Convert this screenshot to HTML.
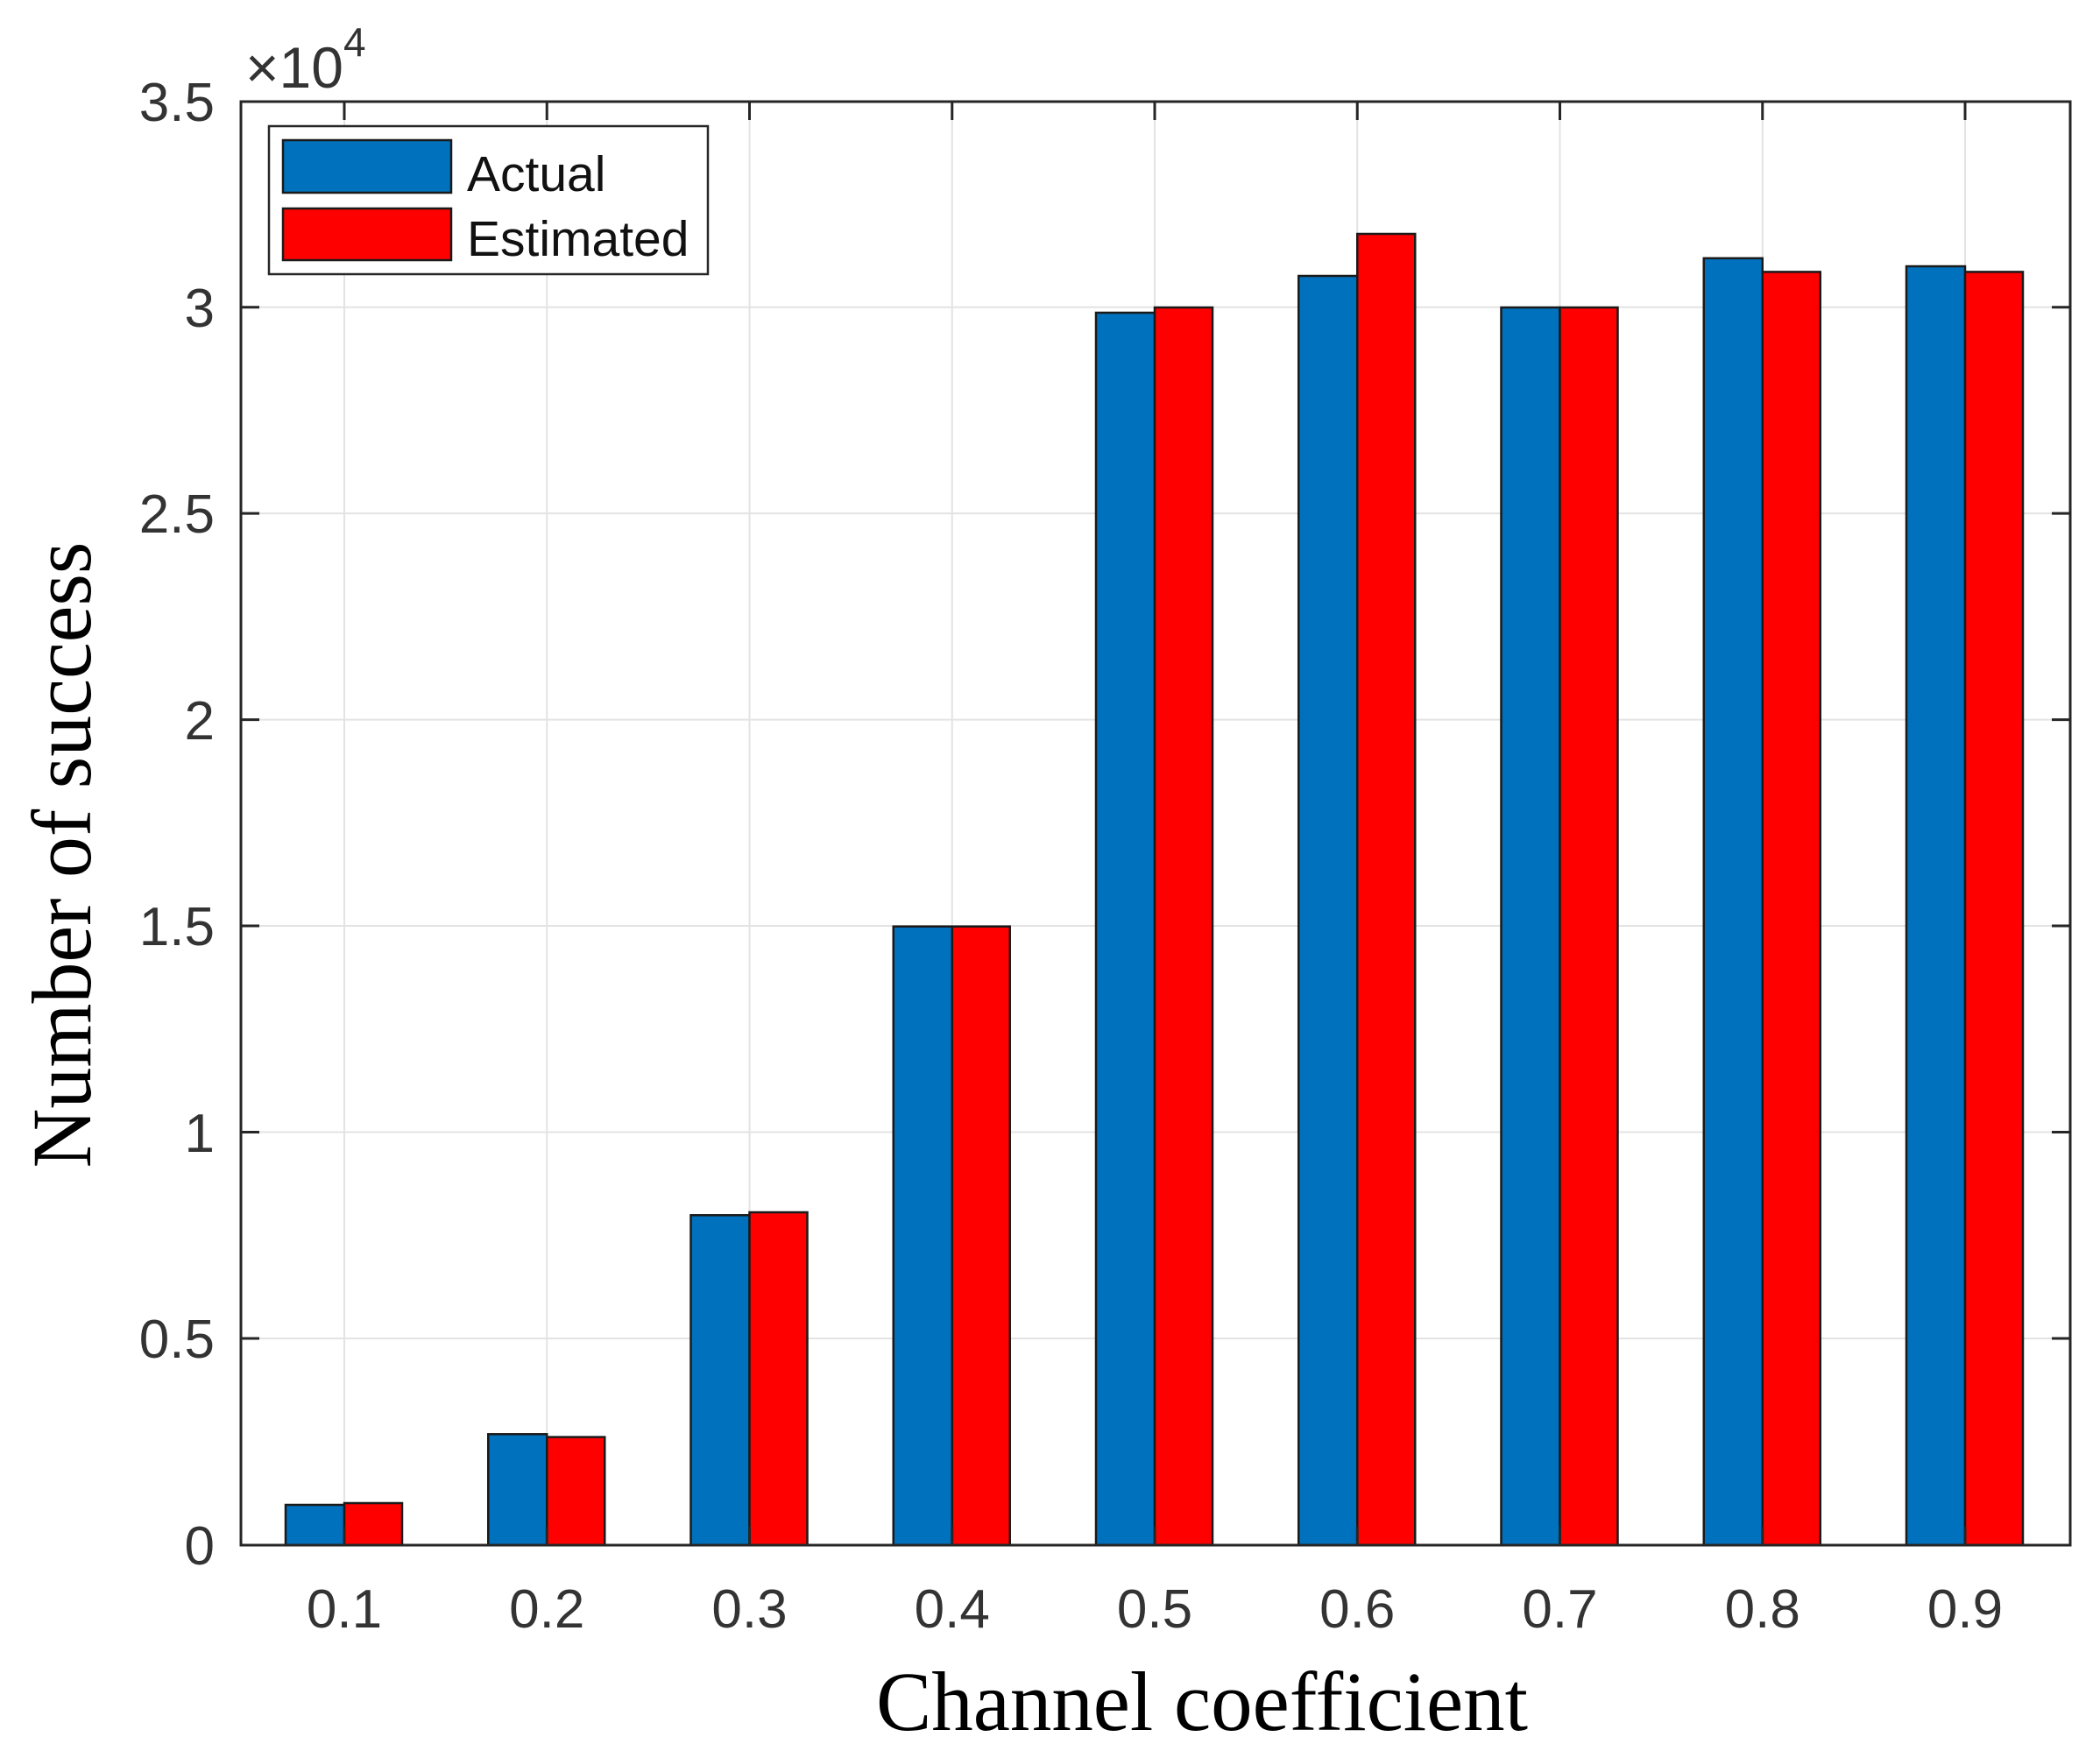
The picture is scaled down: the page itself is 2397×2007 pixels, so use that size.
<!DOCTYPE html>
<html><head><style>html,body{margin:0;padding:0;background:#fff}svg{display:block}</style></head>
<body>
<svg width="2397" height="2007" viewBox="0 0 2397 2007" xmlns="http://www.w3.org/2000/svg">
<rect width="2397" height="2007" fill="#fff"/>
<g stroke="#e3e3e3" stroke-width="2">
<line x1="393" y1="116" x2="393" y2="1764"/><line x1="624.25" y1="116" x2="624.25" y2="1764"/><line x1="855.5" y1="116" x2="855.5" y2="1764"/><line x1="1086.75" y1="116" x2="1086.75" y2="1764"/><line x1="1318" y1="116" x2="1318" y2="1764"/><line x1="1549.25" y1="116" x2="1549.25" y2="1764"/><line x1="1780.5" y1="116" x2="1780.5" y2="1764"/><line x1="2011.75" y1="116" x2="2011.75" y2="1764"/><line x1="2243" y1="116" x2="2243" y2="1764"/>
<line x1="275" y1="350.7" x2="2363" y2="350.7"/><line x1="275" y1="586.1" x2="2363" y2="586.1"/><line x1="275" y1="821.6" x2="2363" y2="821.6"/><line x1="275" y1="1057" x2="2363" y2="1057"/><line x1="275" y1="1292.5" x2="2363" y2="1292.5"/><line x1="275" y1="1528" x2="2363" y2="1528"/>
</g>
<g stroke="#1a1a1a" stroke-width="2.5">
<rect x="326" y="1718" width="67" height="46" fill="#0072bd"/><rect x="393" y="1716" width="66" height="48" fill="#ff0000"/>
<rect x="557.25" y="1637.3" width="67" height="126.7" fill="#0072bd"/><rect x="624.25" y="1640.6" width="66" height="123.4" fill="#ff0000"/>
<rect x="788.5" y="1387.3" width="67" height="376.7" fill="#0072bd"/><rect x="855.5" y="1384" width="66" height="380" fill="#ff0000"/>
<rect x="1019.75" y="1057.7" width="67" height="706.3" fill="#0072bd"/><rect x="1086.75" y="1057.7" width="66" height="706.3" fill="#ff0000"/>
<rect x="1251" y="357" width="67" height="1407" fill="#0072bd"/><rect x="1318" y="351" width="66" height="1413" fill="#ff0000"/>
<rect x="1482.25" y="315" width="67" height="1449" fill="#0072bd"/><rect x="1549.25" y="267" width="66" height="1497" fill="#ff0000"/>
<rect x="1713.5" y="351" width="67" height="1413" fill="#0072bd"/><rect x="1780.5" y="351" width="66" height="1413" fill="#ff0000"/>
<rect x="1944.75" y="294.8" width="67" height="1469.2" fill="#0072bd"/><rect x="2011.75" y="310.4" width="66" height="1453.6" fill="#ff0000"/>
<rect x="2176" y="304" width="67" height="1460" fill="#0072bd"/><rect x="2243" y="310.4" width="66" height="1453.6" fill="#ff0000"/>
</g>
<g stroke="#262626" stroke-width="3" fill="none">
<rect x="275" y="116" width="2088" height="1648"/>
<path d="M393 1764v-21M624.25 1764v-21M855.5 1764v-21M1086.75 1764v-21M1318 1764v-21M1549.25 1764v-21M1780.5 1764v-21M2011.75 1764v-21M2243 1764v-21
M393 116v21M624.25 116v21M855.5 116v21M1086.75 116v21M1318 116v21M1549.25 116v21M1780.5 116v21M2011.75 116v21M2243 116v21
M275 350.7h21M275 586.1h21M275 821.6h21M275 1057h21M275 1292.5h21M275 1528h21
M2363 350.7h-21M2363 586.1h-21M2363 821.6h-21M2363 1057h-21M2363 1292.5h-21M2363 1528h-21"/>
</g>
<g font-family="Liberation Sans, sans-serif" font-size="62" fill="#333" text-anchor="end">
<text x="245" y="138">3.5</text><text x="245" y="373">3</text><text x="245" y="608">2.5</text><text x="245" y="844">2</text><text x="245" y="1079">1.5</text><text x="245" y="1315">1</text><text x="245" y="1550">0.5</text><text x="245" y="1786">0</text>
</g>
<g font-family="Liberation Sans, sans-serif" font-size="62" fill="#333" text-anchor="middle">
<text x="393" y="1858">0.1</text><text x="624.25" y="1858">0.2</text><text x="855.5" y="1858">0.3</text><text x="1086.75" y="1858">0.4</text><text x="1318" y="1858">0.5</text><text x="1549.25" y="1858">0.6</text><text x="1780.5" y="1858">0.7</text><text x="2011.75" y="1858">0.8</text><text x="2243" y="1858">0.9</text>
</g>
<text x="280" y="100" font-family="Liberation Sans, sans-serif" font-size="66" fill="#333">×10<tspan font-size="46" dy="-36">4</tspan></text>
<rect x="307" y="144" width="501" height="169" fill="#fff" stroke="#262626" stroke-width="2.5"/>
<rect x="323" y="160" width="192" height="60" fill="#0072bd" stroke="#1a1a1a" stroke-width="2.5"/>
<rect x="323" y="238" width="192" height="59" fill="#ff0000" stroke="#1a1a1a" stroke-width="2.5"/>
<g font-family="Liberation Sans, sans-serif" font-size="57" fill="#111">
<text x="533" y="218">Actual</text><text x="533" y="292">Estimated</text>
</g>
<text x="1372" y="1975" font-family="Liberation Serif, serif" font-size="96" fill="#000" text-anchor="middle" textLength="744" lengthAdjust="spacingAndGlyphs">Channel coefficient</text>
<text transform="translate(103,976) rotate(-90)" font-family="Liberation Serif, serif" font-size="96" fill="#000" text-anchor="middle" textLength="715" lengthAdjust="spacingAndGlyphs">Number of success</text>
</svg>
</body></html>
